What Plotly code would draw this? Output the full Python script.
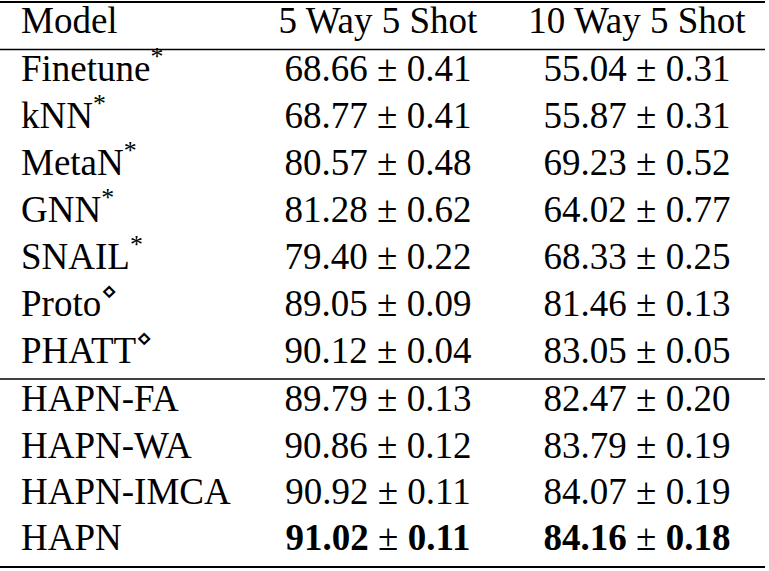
import plotly.graph_objects as go

# table content
models = ["Finetune", "kNN", "MetaN", "GNN", "SNAIL", "Proto", "PHATT",
          "HAPN-FA", "HAPN-WA", "HAPN-IMCA", "HAPN"]
marks = ["*", "*", "*", "*", "*", "⋄", "⋄", "", "", "", ""]
way5_mean = [68.66, 68.77, 80.57, 81.28, 79.40, 89.05, 90.12, 89.79, 90.86, 90.92, 91.02]
way5_std = [0.41, 0.41, 0.48, 0.62, 0.22, 0.09, 0.04, 0.13, 0.12, 0.11, 0.11]
way10_mean = [55.04, 55.87, 69.23, 64.02, 68.33, 81.46, 83.05, 82.47, 83.79, 84.07, 84.16]
way10_std = [0.31, 0.31, 0.52, 0.77, 0.25, 0.13, 0.05, 0.20, 0.19, 0.19, 0.18]
headers = ["Model", "5 Way 5 Shot", "10 Way 5 Shot"]
n_baselines = 7  # rows above the mid rule
best_row = 10

FONT = "Liberation Serif, Times New Roman, serif"
FS = 37
W, H = 769, 571


def cell(m, s, bold):
    if bold:
        return f"<b>{m:.2f}</b> ± <b>{s:.2f}</b>"
    return f"{m:.2f} ± {s:.2f}"


# row centres (pixels from top)
header_y = 23.5
row_y = []
for i in range(len(models)):
    if i < n_baselines:
        row_y.append(71.5 + 47 * i)
    else:
        row_y.append(402 + 46.3 * (i - n_baselines))

col1_x, col2_x, col3_x = 21, 378, 637

name_txt = [f"{m}<sup>{k}</sup>" if k else m for m, k in zip(models, marks)]
c2_txt = [cell(m, s, i == best_row) for i, (m, s) in enumerate(zip(way5_mean, way5_std))]
c3_txt = [cell(m, s, i == best_row) for i, (m, s) in enumerate(zip(way10_mean, way10_std))]

fig = go.Figure()
font = dict(family=FONT, size=FS, color="black")

fig.add_trace(go.Scatter(x=[col1_x], y=[header_y], text=[headers[0]], mode="text",
                         textposition="middle right", textfont=font))
fig.add_trace(go.Scatter(x=[col2_x, col3_x], y=[header_y, header_y], text=headers[1:],
                         mode="text", textposition="middle center", textfont=font))
fig.add_trace(go.Scatter(x=[col1_x] * len(models), y=row_y, text=name_txt, mode="text",
                         textposition="middle right", textfont=font))
fig.add_trace(go.Scatter(x=[col2_x] * len(models), y=row_y, text=c2_txt, mode="text",
                         textposition="middle center", textfont=font))
fig.add_trace(go.Scatter(x=[col3_x] * len(models), y=row_y, text=c3_txt, mode="text",
                         textposition="middle center", textfont=font))

# booktabs-style rules
for y, w in [(2, 2), (49.5, 1.4), (379, 1.4), (567, 2)]:
    fig.add_shape(type="line", x0=0, x1=765, y0=y, y1=y,
                  line=dict(color="black", width=w))

fig.update_layout(
    width=W, height=H,
    margin=dict(l=0, r=0, t=0, b=0),
    paper_bgcolor="white", plot_bgcolor="white",
    showlegend=False,
    xaxis=dict(range=[0, W], visible=False, fixedrange=True),
    yaxis=dict(range=[H, 0], visible=False, fixedrange=True),
)

# page body has an 8px default margin; drop it so the table sits at the top-left
fig.write_html("out.html", config={"displayModeBar": False},
               post_script="document.body.style.margin='0';")
